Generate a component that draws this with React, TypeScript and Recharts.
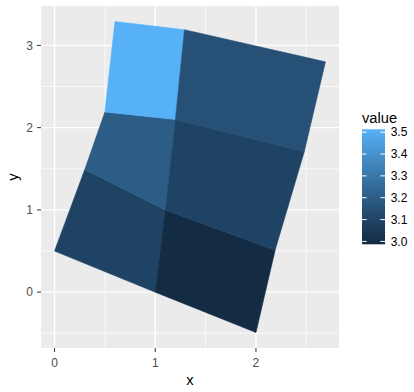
import React from 'react';
import { ScatterChart, Scatter, XAxis, YAxis, CartesianGrid } from 'recharts';

// corner points of the warped grid, rows from bottom to top
const vertexX = [
  [0, 1, 2],
  [0.3, 1.1, 2.19],
  [0.5, 1.2, 2.48],
  [0.6, 1.29, 2.69],
];
const vertexY = [
  [0.5, 0, -0.49],
  [1.49, 1.0, 0.51],
  [2.19, 2.1, 1.71],
  [3.29, 3.19, 2.8],
];
// one value per cell, rows bottom to top, columns left to right
const cellValues = [
  [3.1, 3.0],
  [3.2, 3.1],
  [3.5, 3.15],
];
const xTicks = [0, 1, 2];
const xMinor = [0.5, 1.5, 2.5];
const yTicks = [0, 1, 2, 3];
const yMinor = [-0.5, 0.5, 1.5, 2.5];
const legendTicks = [3.0, 3.1, 3.2, 3.3, 3.4, 3.5];

const LOW = '#132B43';
const HIGH = '#56B1F7';
const FONT = '"Liberation Sans", Arial, sans-serif';

const W = 414;
const H = 392;
const panel = { left: 41, top: 6, right: 339, bottom: 348 };

// --- colour scale (Lab interpolation like scales::seq_gradient_pal) ---
const toLin = (c: number) => {
  c /= 255;
  return c <= 0.04045 ? c / 12.92 : Math.pow((c + 0.055) / 1.055, 2.4);
};
const fromLin = (c: number) => {
  const v = c <= 0.0031308 ? 12.92 * c : 1.055 * Math.pow(c, 1 / 2.4) - 0.055;
  return Math.round(Math.min(1, Math.max(0, v)) * 255);
};
const Xn = 0.95047, Yn = 1, Zn = 1.08883;

function hexToLab(hex: string) {
  const r = toLin(parseInt(hex.slice(1, 3), 16));
  const g = toLin(parseInt(hex.slice(3, 5), 16));
  const b = toLin(parseInt(hex.slice(5, 7), 16));
  const x = (0.4124 * r + 0.3576 * g + 0.1805 * b) / Xn;
  const y = (0.2126 * r + 0.7152 * g + 0.0722 * b) / Yn;
  const z = (0.0193 * r + 0.1192 * g + 0.9505 * b) / Zn;
  const f = (t: number) => (t > 0.008856 ? Math.cbrt(t) : 7.787 * t + 16 / 116);
  return [116 * f(y) - 16, 500 * (f(x) - f(y)), 200 * (f(y) - f(z))];
}

function labToHex([L, a, b]: number[]) {
  const fy = (L + 16) / 116;
  const fx = fy + a / 500;
  const fz = fy - b / 200;
  const inv = (t: number) => (t * t * t > 0.008856 ? t * t * t : (t - 16 / 116) / 7.787);
  const x = inv(fx) * Xn, y = inv(fy) * Yn, z = inv(fz) * Zn;
  const r = 3.2406 * x - 1.5372 * y - 0.4986 * z;
  const g = -0.9689 * x + 1.8758 * y + 0.0415 * z;
  const bl = 0.0557 * x - 0.204 * y + 1.057 * z;
  return '#' + [r, g, bl].map((c) => fromLin(c).toString(16).padStart(2, '0')).join('');
}

const allValues = cellValues.flat();
const vMin = Math.min(...allValues);
const vMax = Math.max(...allValues);
const labLow = hexToLab(LOW);
const labHigh = hexToLab(HIGH);
const colourFor = (v: number) => {
  const t = (v - vMin) / (vMax - vMin);
  return labToHex(labLow.map((c, i) => c + (labHigh[i] - c) * t));
};

// --- polygons built from the grid ---
const polygons: { id: string; value: number; points: { x: number; y: number }[] }[] = [];
cellValues.forEach((row, r) => {
  row.forEach((value, c) => {
    polygons.push({
      id: `cell-${r}-${c}`,
      value,
      points: [
        { x: vertexX[r][c], y: vertexY[r][c] },
        { x: vertexX[r][c + 1], y: vertexY[r][c + 1] },
        { x: vertexX[r + 1][c + 1], y: vertexY[r + 1][c + 1] },
        { x: vertexX[r + 1][c], y: vertexY[r + 1][c] },
      ],
    });
  });
});

const expand = (vals: number[]) => {
  const lo = Math.min(...vals);
  const hi = Math.max(...vals);
  const pad = (hi - lo) * 0.05;
  return [lo - pad, hi + pad];
};
const xDomain = expand(vertexX.flat());
const yDomain = expand(vertexY.flat());

const tickStyle = { fill: '#4D4D4D', fontSize: 12, fontFamily: FONT };

function polygonLine(colour: string) {
  return (props: any) => {
    const pts: { x: number; y: number }[] = props.points || [];
    if (!pts.length) return <g />;
    const d = pts.map((p, i) => `${i === 0 ? 'M' : 'L'}${p.x},${p.y}`).join(' ') + ' Z';
    return <path d={d} fill={colour} stroke={colour} strokeWidth={0.6} />;
  };
}

function ColourBar() {
  const barX = 362;
  const barTop = 129.3;
  const barW = 23;
  const barH = 115;
  const pad = barH / 40;
  const tickY = (v: number) => barTop + pad + ((barH - 2 * pad) * (vMax - v)) / (vMax - vMin);
  const stops = Array.from({ length: 11 }, (_, i) => i / 10);
  return (
    <g>
      <defs>
        <linearGradient id="valueGrad" x1="0" y1="0" x2="0" y2="1">
          {stops.map((s) => (
            <stop key={s} offset={s} stopColor={colourFor(vMax - s * (vMax - vMin))} />
          ))}
        </linearGradient>
      </defs>
      <text x={barX} y={123} fontSize={14.7} fontFamily={FONT} fill="#000">
        value
      </text>
      <rect x={barX} y={barTop} width={barW} height={barH} fill="url(#valueGrad)" />
      {legendTicks.map((v) => (
        <g key={v}>
          <line x1={barX} x2={barX + barW * 0.2} y1={tickY(v)} y2={tickY(v)} stroke="#fff" strokeWidth={1} />
          <line x1={barX + barW * 0.8} x2={barX + barW} y1={tickY(v)} y2={tickY(v)} stroke="#fff" strokeWidth={1} />
          <text x={390.7} y={tickY(v)} dy="0.35em" fontSize={12} fontFamily={FONT} fill="#000">
            {v.toFixed(1)}
          </text>
        </g>
      ))}
    </g>
  );
}

export default function App() {
  return (
    <div style={{ position: 'absolute', left: 0, top: 0, width: W, height: H, background: '#fff' }}>
      <ScatterChart
        width={W}
        height={H}
        margin={{ top: panel.top, right: W - panel.right, bottom: 0, left: 0 }}
      >
        <CartesianGrid
          fill="#EBEBEB"
          stroke="#fff"
          strokeWidth={0.7}
          verticalValues={xMinor}
          horizontalValues={yMinor}
        />
        <CartesianGrid
          fill="none"
          stroke="#fff"
          strokeWidth={1.4}
          verticalValues={xTicks}
          horizontalValues={yTicks}
        />
        <XAxis
          type="number"
          dataKey="x"
          domain={xDomain}
          ticks={xTicks}
          allowDataOverflow
          height={H - panel.bottom}
          axisLine={false}
          tickSize={4}
          tickMargin={6}
          tickLine={{ stroke: '#333333' }}
          tick={tickStyle}
        />
        <YAxis
          type="number"
          dataKey="y"
          domain={yDomain}
          ticks={yTicks}
          allowDataOverflow
          width={panel.left}
          axisLine={false}
          tickSize={4}
          tickMargin={4}
          tickLine={{ stroke: '#333333' }}
          tick={tickStyle}
        />
        {polygons.map((p) => (
          <Scatter
            key={p.id}
            data={p.points}
            fill={colourFor(p.value)}
            isAnimationActive={false}
            shape={() => <g />}
            line={polygonLine(colourFor(p.value))}
          />
        ))}
      </ScatterChart>
      <svg
        width={W}
        height={H}
        style={{ position: 'absolute', left: 0, top: 0, pointerEvents: 'none' }}
      >
        <text x={(panel.left + panel.right) / 2} y={385} textAnchor="middle" fontSize={14.7} fontFamily={FONT} fill="#000">
          x
        </text>
        <text
          x={18}
          y={(panel.top + panel.bottom) / 2}
          textAnchor="middle"
          fontSize={14.7}
          fontFamily={FONT}
          fill="#000"
          transform={`rotate(-90 18 ${(panel.top + panel.bottom) / 2})`}
        >
          y
        </text>
        <ColourBar />
      </svg>
    </div>
  );
}
